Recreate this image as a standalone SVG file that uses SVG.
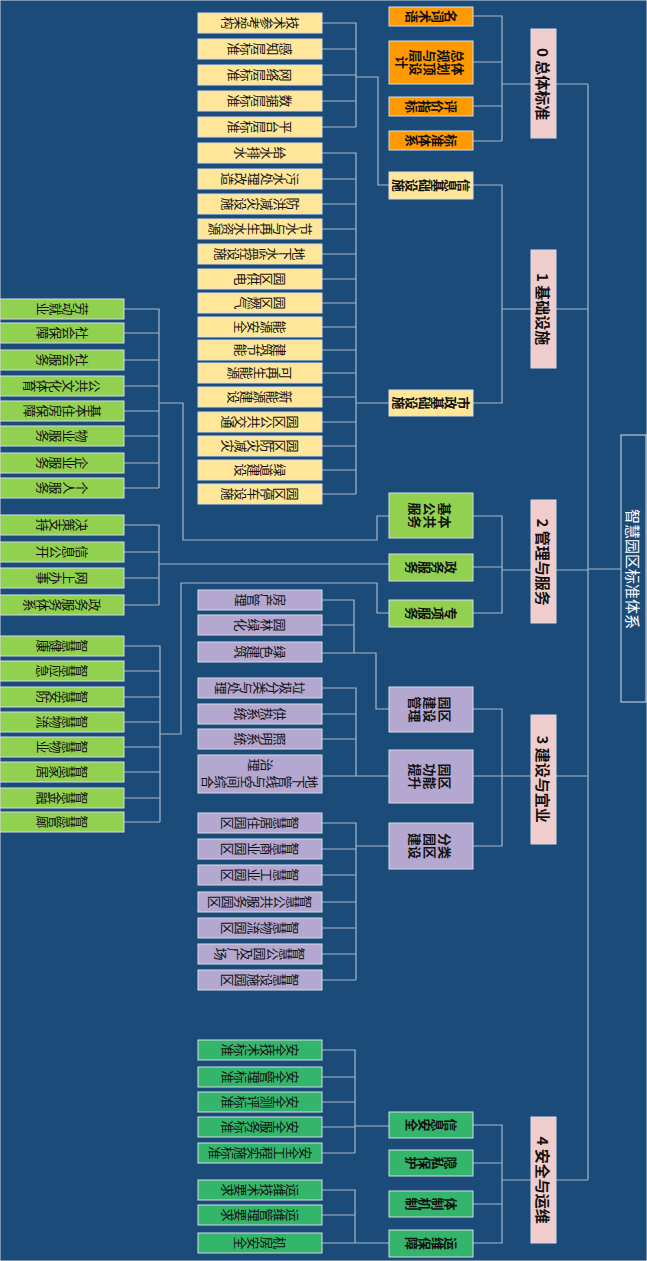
<svg xmlns="http://www.w3.org/2000/svg" width="647" height="1261" viewBox="0 0 647 1261">
<style>
text{font-family:"Noto Sans CJK SC","Liberation Sans",sans-serif;fill:#111}
.h{writing-mode:vertical-rl;text-anchor:middle;dominant-baseline:central;font-size:13px}
.v{text-anchor:middle;dominant-baseline:central;font-size:13px}
.b{font-weight:bold}
.c{font-size:15px;font-weight:bold}
rect{stroke:#d8dde6;stroke-width:1}
.or{fill:#ff9900}.ye{fill:#ffe699}.gr{fill:#92d050}.pu{fill:#b4a7d0}.dg{fill:#33b56b}.pk{fill:#f0cccc}
#conn path{fill:none;stroke:#a9b8c9;stroke-width:1.2}
</style>
<rect x="0" y="0" width="647" height="1261" fill="#1b4b79" stroke="none"/>
<g id="conn">
<path d="M621,569H588M588,84V1180M531,84H588M556,309H588M556,570H588M556,776H588M556,1180H588"/>
<path d="M531,84H502M473,16H502V141M473,62H502M473,106H502M473,141H502"/>
<path d="M531,309H502M473,185H502V403H473"/>
<path d="M322,23H356V127M322,49H356M322,75H356M322,101H356M322,127H356M356,77H378V185H389"/>
<path d="M322,153H356V494M322,179H356M322,204H356M322,229H356M322,254H356M322,279H356M322,303H356M322,327H356M322,350H356M322,373H356M322,397H356M322,422H356M322,446H356M322,470H356M322,494H356M356,403H389"/>
<path d="M531,570H502M473,516H502V613H473M473,567H502"/>
<path d="M124,309H159V488M124,333H159M124,360H159M124,386H159M124,411H159M124,436H159M124,463H159M124,488H159M159,403H183V540H377V516H389"/>
<path d="M124,525H159V605M124,552H159M124,578H159M124,605H159M159,564H389"/>
<path d="M124,646H160V822M124,671H160M124,697H160M124,722H160M124,747H160M124,772H160M124,798H160M124,822H160M160,734H181V583H377V613H389"/>
<path d="M531,776H502M473,709H502V846H473M473,776H502"/>
<path d="M322,600H354V653M322,625H354M322,653H376V709H389"/>
<path d="M322,688H356V776M322,714H356M322,739H356M322,776H389"/>
<path d="M322,823H356V980M322,849H356M322,875H356M322,902H356M322,928H356M322,954H356M322,980H356M356,846H389"/>
<path d="M531,1180H502M473,1125H502V1243H473M473,1163H502M473,1204H502"/>
<path d="M322,1050H355V1153M322,1077H355M322,1102H355M322,1127H355M322,1153H355M355,1126H389"/>
<path d="M322,1190H355V1243M322,1215H355M322,1243H389"/>
</g>
<g id="root"><rect x="621" y="435" width="25" height="267" fill="none" stroke="#d8dde6"/><text class="v" style="fill:#fff;font-size:15px" transform="translate(633.5,569) rotate(90)">智慧园区标准体系</text></g>
<g id="cat0"><rect class="pk" x="531" y="29" width="25" height="109"/><text class="v c" transform="translate(543.5,84) rotate(90)">0  总体标准</text></g>
<g id="cat1"><rect class="pk" x="531" y="250" width="25" height="118"/><text class="v c" transform="translate(543.5,309) rotate(90)">1  基础设施</text></g>
<g id="cat2"><rect class="pk" x="531" y="500" width="25" height="123"/><text class="v c" transform="translate(543.5,562) rotate(90)">2  管理与服务</text></g>
<g id="cat3"><rect class="pk" x="531" y="715" width="25" height="129"/><text class="v c" transform="translate(543.5,779) rotate(90)">3  建设与宜业</text></g>
<g id="cat4"><rect class="pk" x="531" y="1117" width="25" height="126"/><text class="v c" transform="translate(543.5,1180) rotate(90)">4  安全与运维</text></g>
<g id="g0">
<rect class="or" x="389" y="7" width="84" height="19"/><text class="h b" transform="translate(431,16.5) rotate(90)">名词术语</text>
<rect class="or" x="389" y="41" width="84" height="43"/><text class="v b" transform="translate(431,62.5) rotate(90)"><tspan x="0" y="-28">总体</tspan><tspan x="0" y="-14">规划</tspan><tspan x="0" y="0">与顶</tspan><tspan x="0" y="14">层设</tspan><tspan x="0" y="28">计</tspan></text>
<rect class="or" x="389" y="97" width="84" height="19"/><text class="h b" transform="translate(431,106.5) rotate(90)">评价指标</text>
<rect class="or" x="389" y="131" width="84" height="19"/><text class="h b" transform="translate(431,140.5) rotate(90)">标准体系</text>
</g>
<g id="g1">
<rect class="ye" x="389" y="172" width="84" height="27"/><text class="h b" transform="translate(431,185.5) rotate(90)">信息基础设施</text>
<rect class="ye" x="389" y="390" width="84" height="26"/><text class="h b" transform="translate(431,403) rotate(90)">市政基础设施</text>
</g>
<g id="l1">
<rect class="ye" x="198" y="13" width="124" height="20"/><text class="h" transform="translate(260,23) rotate(90)">技术参考架构</text>
<rect class="ye" x="198" y="39" width="124" height="20"/><text class="h" transform="translate(260,49) rotate(90)">感知层标准</text>
<rect class="ye" x="198" y="65" width="124" height="20"/><text class="h" transform="translate(260,75) rotate(90)">网络层标准</text>
<rect class="ye" x="198" y="91" width="124" height="20"/><text class="h" transform="translate(260,101) rotate(90)">数据层标准</text>
<rect class="ye" x="198" y="117" width="124" height="20"/><text class="h" transform="translate(260,127) rotate(90)">平台层标准</text>
<rect class="ye" x="198" y="143" width="124" height="20"/><text class="h" transform="translate(260,153) rotate(90)">给水排水</text>
<rect class="ye" x="198" y="169" width="124" height="20"/><text class="h" transform="translate(260,179) rotate(90)">污水处理改造</text>
<rect class="ye" x="198" y="194" width="124" height="20"/><text class="h" transform="translate(260,204) rotate(90)">防洪减灾设施</text>
<rect class="ye" x="198" y="219" width="124" height="20"/><text class="h" transform="translate(260,229) rotate(90)">节水与再生水资源</text>
<rect class="ye" x="198" y="244" width="124" height="20"/><text class="h" transform="translate(260,254) rotate(90)">地下水监控设施</text>
<rect class="ye" x="198" y="269" width="124" height="20"/><text class="h" transform="translate(260,279) rotate(90)">园区供电</text>
<rect class="ye" x="198" y="293" width="124" height="20"/><text class="h" transform="translate(260,303) rotate(90)">园区燃气</text>
<rect class="ye" x="198" y="317" width="124" height="20"/><text class="h" transform="translate(260,327) rotate(90)">能源安全</text>
<rect class="ye" x="198" y="340" width="124" height="20"/><text class="h" transform="translate(260,350) rotate(90)">建筑节能</text>
<rect class="ye" x="198" y="363" width="124" height="20"/><text class="h" transform="translate(260,373) rotate(90)">可再生能源</text>
<rect class="ye" x="198" y="387" width="124" height="20"/><text class="h" transform="translate(260,397) rotate(90)">新能源建设</text>
<rect class="ye" x="198" y="412" width="124" height="20"/><text class="h" transform="translate(260,422) rotate(90)">园区公共交通</text>
<rect class="ye" x="198" y="436" width="124" height="20"/><text class="h" transform="translate(260,446) rotate(90)">园区防灾减灾</text>
<rect class="ye" x="198" y="460" width="124" height="20"/><text class="h" transform="translate(260,470) rotate(90)">绿道建设</text>
<rect class="ye" x="198" y="484" width="124" height="20"/><text class="h" transform="translate(260,494) rotate(90)">园区停车设施</text>
</g>
<g id="g2">
<rect class="gr" x="389" y="493" width="84" height="45"/><text class="v b" transform="translate(431,515.5) rotate(90)"><tspan x="0" y="-15">基本</tspan><tspan x="0" y="0">公共</tspan><tspan x="0" y="15">服务</tspan></text>
<rect class="gr" x="389" y="554" width="84" height="27"/><text class="h b" transform="translate(431,567.5) rotate(90)">政务服务</text>
<rect class="gr" x="389" y="600" width="84" height="27"/><text class="h b" transform="translate(431,613.5) rotate(90)">专项服务</text>
</g>
<g id="l2">
<rect class="gr" x="0" y="299" width="124" height="20"/><text class="h" transform="translate(62,309) rotate(90)">劳动就业</text>
<rect class="gr" x="0" y="323" width="124" height="20"/><text class="h" transform="translate(62,333) rotate(90)">社会保障</text>
<rect class="gr" x="0" y="350" width="124" height="20"/><text class="h" transform="translate(62,360) rotate(90)">社会服务</text>
<rect class="gr" x="0" y="376" width="124" height="20"/><text class="h" transform="translate(62,386) rotate(90)">公共文化体育</text>
<rect class="gr" x="0" y="401" width="124" height="20"/><text class="h" transform="translate(62,411) rotate(90)">基本住房保障</text>
<rect class="gr" x="0" y="426" width="124" height="20"/><text class="h" transform="translate(62,436) rotate(90)">物业服务</text>
<rect class="gr" x="0" y="453" width="124" height="20"/><text class="h" transform="translate(62,463) rotate(90)">企业服务</text>
<rect class="gr" x="0" y="478" width="124" height="20"/><text class="h" transform="translate(62,488) rotate(90)">个人服务</text>
<rect class="gr" x="0" y="515" width="124" height="20"/><text class="h" transform="translate(62,525) rotate(90)">决策支持</text>
<rect class="gr" x="0" y="542" width="124" height="20"/><text class="h" transform="translate(62,552) rotate(90)">信息公开</text>
<rect class="gr" x="0" y="568" width="124" height="20"/><text class="h" transform="translate(62,578) rotate(90)">网上办事</text>
<rect class="gr" x="0" y="595" width="124" height="20"/><text class="h" transform="translate(62,605) rotate(90)">政务服务体系</text>
<rect class="gr" x="0" y="636" width="124" height="20"/><text class="h" transform="translate(62,646) rotate(90)">智慧健康</text>
<rect class="gr" x="0" y="661" width="124" height="20"/><text class="h" transform="translate(62,671) rotate(90)">智慧应急</text>
<rect class="gr" x="0" y="687" width="124" height="20"/><text class="h" transform="translate(62,697) rotate(90)">智慧安防</text>
<rect class="gr" x="0" y="712" width="124" height="20"/><text class="h" transform="translate(62,722) rotate(90)">智慧物流</text>
<rect class="gr" x="0" y="737" width="124" height="20"/><text class="h" transform="translate(62,747) rotate(90)">智慧物业</text>
<rect class="gr" x="0" y="762" width="124" height="20"/><text class="h" transform="translate(62,772) rotate(90)">智慧家居</text>
<rect class="gr" x="0" y="788" width="124" height="20"/><text class="h" transform="translate(62,798) rotate(90)">智慧金融</text>
<rect class="gr" x="0" y="812" width="124" height="20"/><text class="h" transform="translate(62,822) rotate(90)">智慧管廊</text>
</g>
<g id="g3">
<rect class="pu" x="389" y="687" width="84" height="45"/><text class="v b" transform="translate(431,709.5) rotate(90)"><tspan x="0" y="-15">园区</tspan><tspan x="0" y="0">建设</tspan><tspan x="0" y="15">管理</tspan></text>
<rect class="pu" x="389" y="750" width="84" height="53"/><text class="v b" transform="translate(431,776.5) rotate(90)"><tspan x="0" y="-15">园区</tspan><tspan x="0" y="0">功能</tspan><tspan x="0" y="15">提升</tspan></text>
<rect class="pu" x="389" y="823" width="84" height="46"/><text class="v b" transform="translate(431,846) rotate(90)"><tspan x="0" y="-15">分类</tspan><tspan x="0" y="0">园区</tspan><tspan x="0" y="15">建设</tspan></text>
</g>
<g id="l3">
<rect class="pu" x="198" y="590" width="124" height="20"/><text class="h" transform="translate(260,600) rotate(90)">房产管理</text>
<rect class="pu" x="198" y="615" width="124" height="20"/><text class="h" transform="translate(260,625) rotate(90)">园林绿化</text>
<rect class="pu" x="198" y="642" width="124" height="20"/><text class="h" transform="translate(260,652) rotate(90)">绿色建筑</text>
<rect class="pu" x="198" y="678" width="124" height="20"/><text class="h" transform="translate(260,688) rotate(90)">垃圾分类与处理</text>
<rect class="pu" x="198" y="704" width="124" height="20"/><text class="h" transform="translate(260,714) rotate(90)">供热系统</text>
<rect class="pu" x="198" y="729" width="124" height="20"/><text class="h" transform="translate(260,739) rotate(90)">照明系统</text>
<rect class="pu" x="198" y="755" width="124" height="38"/><text class="h" transform="translate(260,782) rotate(90)">地下管线与空间综合</text><text class="h" transform="translate(260,765) rotate(90)">治理</text>
<rect class="pu" x="198" y="813" width="124" height="20"/><text class="h" transform="translate(260,823) rotate(90)">智慧居住园区</text>
<rect class="pu" x="198" y="839" width="124" height="20"/><text class="h" transform="translate(260,849) rotate(90)">智慧商业园区</text>
<rect class="pu" x="198" y="865" width="124" height="20"/><text class="h" transform="translate(260,875) rotate(90)">智慧工业园区</text>
<rect class="pu" x="198" y="892" width="124" height="20"/><text class="h" transform="translate(260,902) rotate(90)">智慧公共服务园区</text>
<rect class="pu" x="198" y="918" width="124" height="20"/><text class="h" transform="translate(260,928) rotate(90)">智慧物流园区</text>
<rect class="pu" x="198" y="944" width="124" height="20"/><text class="h" transform="translate(260,954) rotate(90)">智慧公园及广场</text>
<rect class="pu" x="198" y="970" width="124" height="20"/><text class="h" transform="translate(260,980) rotate(90)">智慧设施园区</text>
</g>
<g id="g4">
<rect class="dg" x="389" y="1112" width="84" height="26"/><text class="h b" transform="translate(431,1125) rotate(90)">信息安全</text>
<rect class="dg" x="389" y="1150" width="84" height="26"/><text class="h b" transform="translate(431,1163) rotate(90)">隐私保护</text>
<rect class="dg" x="389" y="1191" width="84" height="26"/><text class="h b" transform="translate(431,1204) rotate(90)">体制机制</text>
<rect class="dg" x="389" y="1230" width="84" height="27"/><text class="h b" transform="translate(431,1243.5) rotate(90)">运维保障</text>
</g>
<g id="l4">
<rect class="dg" x="198" y="1040" width="124" height="20"/><text class="h" transform="translate(260,1050) rotate(90)">安全技术标准</text>
<rect class="dg" x="198" y="1067" width="124" height="20"/><text class="h" transform="translate(260,1077) rotate(90)">安全管理标准</text>
<rect class="dg" x="198" y="1092" width="124" height="20"/><text class="h" transform="translate(260,1102) rotate(90)">安全测评标准</text>
<rect class="dg" x="198" y="1117" width="124" height="20"/><text class="h" transform="translate(260,1127) rotate(90)">安全服务标准</text>
<rect class="dg" x="198" y="1143" width="124" height="20"/><text class="h" transform="translate(260,1153) rotate(90)">安全工程实施标准</text>
<rect class="dg" x="198" y="1180" width="124" height="20"/><text class="h" transform="translate(260,1190) rotate(90)">运维技术要求</text>
<rect class="dg" x="198" y="1205" width="124" height="20"/><text class="h" transform="translate(260,1215) rotate(90)">运维管理要求</text>
<rect class="dg" x="198" y="1233" width="124" height="20"/><text class="h" transform="translate(260,1243) rotate(90)">机房安全</text>
</g>
</svg>
